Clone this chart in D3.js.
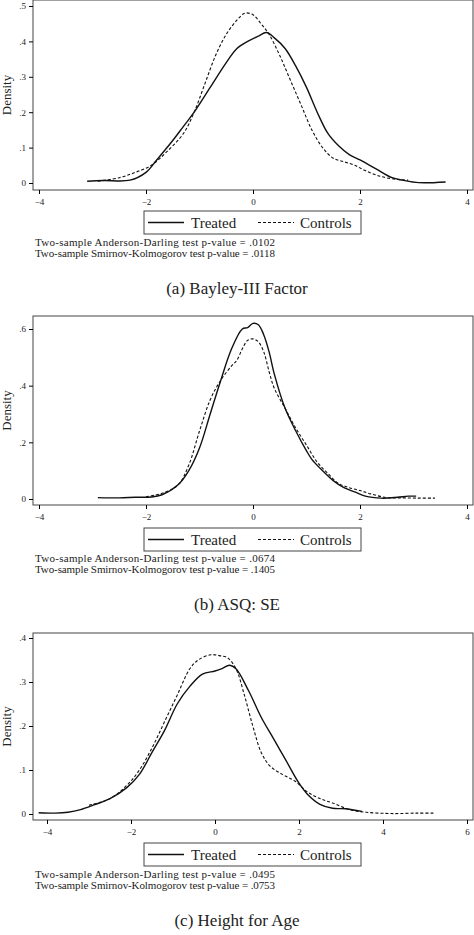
<!DOCTYPE html><html><head><meta charset="utf-8">
<script src="https://cdn.jsdelivr.net/npm/d3@7"></script>
<style>body{margin:0;background:#fff}svg{display:block}text{font-family:"Liberation Serif","DejaVu Serif",serif;fill:#222}</style>
</head><body><svg id="c" width="474" height="935"></svg>
<script>
const titles=["(a) Bayley-III Factor","(b) ASQ: SE","(c) Height for Age"];
const notesA=["Two-sample Anderson-Darling test p-value = .0102","Two-sample Smirnov-Kolmogorov test p-value = .0118"];
const notesB=["Two-sample Anderson-Darling test p-value = .0674","Two-sample Smirnov-Kolmogorov test p-value = .1405"];
const notesC=["Two-sample Anderson-Darling test p-value = .0495","Two-sample Smirnov-Kolmogorov test p-value = .0753"];
const xTicksA=[-4,-2,0,2,4], yTicksA=[0,.1,.2,.3,.4,.5];
const xTicksB=[-4,-2,0,2,4], yTicksB=[0,.2,.4,.6];
const xTicksC=[-4,-2,0,2,4,6], yTicksC=[0,.1,.2,.3,.4];
const treatedA=[[-3.1,.005],[-2.8,.007],[-2.3,.008],[-2.0,.03],[-1.8,.065],[-1.5,.12],[-1.3,.16],[-1.1,.2],[-0.8,.27],[-0.5,.34],[-0.3,.38],[-0.1,.40],[0.1,.415],[0.25,.425],[0.4,.41],[0.6,.38],[0.8,.33],[1.0,.27],[1.2,.2],[1.4,.14],[1.6,.105],[1.8,.08],[2.0,.065],[2.3,.04],[2.6,.015],[2.8,.008],[3.1,.001],[3.6,.003]];
const controlsA=[[-2.9,.005],[-2.5,.015],[-2.2,.03],[-1.9,.05],[-1.6,.09],[-1.3,.14],[-1.1,.2],[-0.9,.28],[-0.7,.36],[-0.5,.42],[-0.3,.46],[-0.15,.48],[0.0,.475],[0.15,.45],[0.3,.42],[0.5,.36],[0.7,.29],[0.9,.22],[1.1,.15],[1.3,.1],[1.5,.07],[1.7,.06],[1.9,.05],[2.1,.035],[2.4,.018],[2.7,.01],[2.9,.008]];
const treatedB=[[-2.9,.005],[-2.5,.004],[-2.2,.006],[-1.9,.007],[-1.7,.015],[-1.4,.05],[-1.2,.1],[-1.0,.18],[-0.8,.3],[-0.6,.42],[-0.4,.53],[-0.2,.6],[-0.1,.605],[0.0,.62],[0.1,.615],[0.2,.58],[0.3,.52],[0.4,.44],[0.6,.32],[0.8,.24],[1.0,.17],[1.1,.14],[1.3,.1],[1.5,.065],[1.7,.04],[1.9,.025],[2.1,.01],[2.4,.003],[2.7,.006],[2.9,.01],[3.05,.01]];
const controlsB=[[-2.0,.008],[-1.7,.02],[-1.4,.05],[-1.2,.12],[-1.0,.24],[-0.8,.35],[-0.6,.42],[-0.4,.47],[-0.3,.49],[-0.2,.53],[-0.1,.56],[0.0,.565],[0.1,.555],[0.2,.52],[0.3,.45],[0.4,.39],[0.6,.32],[0.8,.25],[1.0,.19],[1.2,.13],[1.4,.09],[1.6,.055],[1.8,.04],[2.0,.03],[2.2,.018],[2.5,.005],[2.8,.004],[3.1,.003],[3.4,.003]];
const treatedC=[[-4.2,.003],[-3.8,.002],[-3.5,.004],[-3.2,.01],[-2.9,.02],[-2.5,.035],[-2.1,.06],[-1.8,.09],[-1.5,.14],[-1.2,.19],[-0.9,.25],[-0.6,.29],[-0.3,.318],[0.0,.325],[0.15,.33],[0.35,.338],[0.5,.33],[0.8,.28],[1.1,.22],[1.4,.17],[1.7,.12],[2.0,.07],[2.2,.045],[2.5,.022],[2.8,.013],[3.1,.012],[3.5,.006]];
const controlsC=[[-3.0,.02],[-2.5,.035],[-2.1,.065],[-1.8,.1],[-1.5,.15],[-1.2,.21],[-0.9,.27],[-0.6,.33],[-0.4,.35],[-0.1,.362],[0.1,.36],[0.3,.355],[0.5,.33],[0.7,.27],[0.9,.2],[1.1,.14],[1.3,.11],[1.6,.09],[1.9,.075],[2.2,.05],[2.5,.035],[2.8,.025],[3.2,.01],[3.6,.004],[4.2,.001],[4.8,.002],[5.2,.002]];

const panels=[
 {t:titles[0],notes:notesA,xt:xTicksA,yt:yTicksA,tr:treatedA,co:controlsA,top:0,axisY:190,y0:183,y1:6,yMax:.5,xPx:[39,467],xDom:[-4,4],leg:211,nt:246,cap:294},
 {t:titles[1],notes:notesB,xt:xTicksB,yt:yTicksB,tr:treatedB,co:controlsB,top:316,axisY:505,y0:499,y1:329,yMax:.6,xPx:[39,467],xDom:[-4,4],leg:528,nt:562,cap:610},
 {t:titles[2],notes:notesC,xt:xTicksC,yt:yTicksC,tr:treatedC,co:controlsC,top:633,axisY:820,y0:814,y1:638,yMax:.4,xPx:[47,467],xDom:[-4,6],leg:843,nt:878,cap:926}
];
const svg=d3.select("#c");
const fmt=v=>v===0?"0":String(+v.toFixed(1)).replace(/^0/,"");
panels.forEach(p=>{
 const g=svg.append("g");
 const x=d3.scaleLinear().domain(p.xDom).range(p.xPx);
 const y=d3.scaleLinear().domain([0,p.yMax]).range([p.y0,p.y1]);
 g.append("rect").attr("x",33).attr("y",p.top).attr("width",440).attr("height",p.axisY-p.top).attr("fill","none").attr("stroke","#444").attr("stroke-width",1);
 const xa=g.append("g").attr("transform",`translate(0,${p.axisY})`).call(d3.axisBottom(x).tickValues(p.xt).tickSize(4).tickFormat(d3.format("d")));
 xa.select(".domain").remove();
 xa.selectAll("text").attr("font-size",9).attr("dy","0.9em");
 const ya=g.append("g").attr("transform",`translate(33,0)`).call(d3.axisLeft(y).tickValues(p.yt).tickSize(4).tickFormat(fmt));
 ya.select(".domain").remove();
 ya.selectAll("text").attr("font-size",9);
 g.append("text").attr("transform",`translate(11,${(p.top+p.axisY)/2}) rotate(-90)`).attr("text-anchor","middle").attr("font-size",13).text("Density");
 const line=d3.line().x(d=>x(d[0])).y(d=>y(d[1])).curve(d3.curveCatmullRom);
 g.append("path").attr("d",line(p.tr)).attr("fill","none").attr("stroke","#111").attr("stroke-width",1.4);
 g.append("path").attr("d",line(p.co)).attr("fill","none").attr("stroke","#111").attr("stroke-width",1.1).attr("stroke-dasharray","3,2");
 g.append("rect").attr("x",144).attr("y",p.leg).attr("width",217).attr("height",23).attr("fill","#fff").attr("stroke","#444");
 const ly=p.leg+11.5;
 g.append("line").attr("x1",148).attr("x2",184).attr("y1",ly).attr("y2",ly).attr("stroke","#111").attr("stroke-width",1.4);
 g.append("text").attr("x",191).attr("y",ly+5).attr("font-size",15).text("Treated");
 g.append("line").attr("x1",258).attr("x2",294).attr("y1",ly).attr("y2",ly).attr("stroke","#111").attr("stroke-width",1.1).attr("stroke-dasharray","3,2");
 g.append("text").attr("x",300).attr("y",ly+5).attr("font-size",15).text("Controls");
 p.notes.forEach((n,i)=>g.append("text").attr("x",35).attr("y",p.nt+i*11).attr("font-size",11).attr("textLength",n.length>50?257:240).text(n));
 g.append("text").attr("x",237).attr("y",p.cap).attr("text-anchor","middle").attr("font-size",17).text(p.t);
});
</script></body></html>
